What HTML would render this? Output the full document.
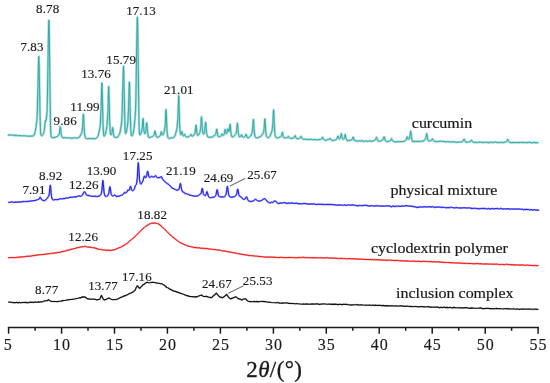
<!DOCTYPE html>
<html><head><meta charset="utf-8"><style>
html,body{margin:0;padding:0;background:#fff;}
svg{display:block;}
text{font-family:"Liberation Serif","Times New Roman",serif;fill:#1a1a1a;}
</style></head><body>
<svg width="550" height="383" viewBox="0 0 550 383">
<rect width="550" height="383" fill="#fff"/>
<g fill="none" stroke-linejoin="round" stroke-linecap="round">
<polyline stroke="#acdedb" stroke-width="2.5" points="8.4,135.0 9.7,135.1 11.0,135.1 12.3,134.9 13.6,135.4 16.2,135.2 17.5,135.5 21.4,135.7 22.7,135.8 24.0,135.7 25.3,135.9 26.6,135.9 27.9,136.2 31.0,136.1 32.5,136.1 33.2,135.9 33.9,135.2 34.5,134.0 35.2,131.5 35.9,127.7 36.8,120.9 37.1,117.1 37.4,108.8 38.6,60.0 38.8,56.5 39.1,64.6 40.1,117.2 40.5,130.9 40.8,134.2 41.1,135.2 41.4,135.6 41.9,135.7 42.4,135.3 43.1,134.4 43.6,133.3 44.0,131.8 44.4,129.6 45.2,121.0 45.4,120.5 45.7,120.9 45.9,120.8 46.3,119.0 46.8,114.8 47.1,110.4 47.4,99.5 48.4,37.0 48.7,23.6 48.9,20.2 49.1,24.5 49.3,35.3 50.5,125.5 50.8,133.8 51.1,136.3 51.5,137.4 52.0,137.6 53.9,137.6 55.0,137.4 57.3,136.4 57.8,136.1 58.4,135.4 58.9,134.6 59.4,133.0 60.1,127.4 60.3,126.6 60.5,127.4 61.3,134.7 61.8,136.6 62.1,137.3 62.4,137.5 63.0,137.8 64.3,137.6 66.9,137.9 69.5,137.9 70.8,138.1 72.1,138.2 74.7,137.8 76.0,138.1 77.3,137.8 78.6,137.8 79.4,137.0 80.7,135.0 81.4,133.6 81.9,131.8 82.6,126.9 83.2,115.9 83.4,114.1 83.6,116.0 84.4,131.8 84.9,136.1 85.4,137.9 85.7,138.2 86.1,138.4 87.7,138.7 89.0,138.5 90.3,138.5 91.6,138.8 92.9,138.6 95.3,138.7 96.1,138.3 97.2,137.3 97.7,136.7 98.1,135.8 98.9,133.0 99.9,127.7 100.3,124.1 101.1,108.5 101.7,86.4 101.9,83.0 102.1,86.7 103.0,122.5 103.4,131.8 103.8,135.6 104.1,136.2 104.4,136.1 104.8,135.5 105.3,134.2 106.4,129.5 107.1,124.8 107.9,111.7 108.5,90.0 108.7,86.6 108.9,90.3 109.7,121.3 110.1,129.7 110.5,133.9 110.7,134.6 111.0,134.9 111.3,134.6 111.7,133.7 112.0,132.5 112.5,128.4 112.7,127.6 112.9,128.4 113.6,134.5 113.9,135.9 114.3,136.9 114.7,137.3 115.4,137.4 117.1,137.4 117.6,137.2 117.8,137.0 118.7,135.4 119.4,134.5 119.9,133.0 120.8,128.4 121.7,121.6 122.1,113.4 123.3,69.5 123.5,66.1 123.7,69.9 124.8,120.7 125.1,129.7 125.3,132.5 125.5,133.5 125.7,133.7 126.0,133.2 126.3,132.2 127.4,126.5 127.8,123.1 128.6,107.3 129.2,85.3 129.4,82.0 129.6,85.7 130.3,115.8 130.8,129.4 131.0,132.8 131.3,135.2 131.6,135.8 131.8,135.8 132.2,135.6 132.7,134.8 133.2,133.2 134.0,128.5 134.9,119.6 135.6,109.6 135.9,98.0 136.8,39.2 137.2,20.7 137.4,17.2 137.6,21.5 137.9,38.9 139.0,124.0 139.3,132.3 139.5,134.0 139.7,134.7 139.9,134.9 140.1,134.9 140.4,134.5 141.2,133.0 141.9,130.4 142.3,127.4 142.8,119.9 143.0,118.5 143.2,119.8 143.8,129.0 144.1,131.4 144.5,133.2 144.7,133.6 145.0,133.6 145.3,133.0 145.7,131.5 146.0,129.6 146.5,123.8 146.7,122.8 146.9,123.9 147.7,133.3 148.2,136.1 148.5,137.0 148.8,137.5 149.5,137.5 151.8,136.8 152.7,136.4 153.3,135.9 153.8,135.2 154.2,134.3 154.8,131.4 155.0,130.9 155.2,131.5 155.9,135.5 156.4,136.7 156.9,137.2 157.4,137.3 158.0,137.2 159.6,136.3 160.0,135.9 160.5,135.1 161.3,131.7 161.5,132.0 162.2,134.6 162.6,135.0 163.0,134.8 163.6,133.7 164.3,131.7 164.9,127.8 165.3,123.2 165.8,111.6 166.0,109.6 166.2,111.8 166.9,128.6 167.4,134.5 167.8,136.9 168.1,137.7 168.4,138.1 169.6,138.6 170.9,137.9 172.2,137.7 173.2,137.8 173.5,137.8 173.8,137.5 174.7,136.2 175.6,133.9 176.7,129.6 177.2,126.6 177.9,118.0 178.5,98.7 178.7,95.6 178.9,98.8 179.6,123.5 180.0,130.2 180.4,133.9 180.7,134.7 180.9,134.8 181.1,134.6 181.9,131.5 182.1,131.9 182.7,134.7 183.2,135.7 183.5,135.9 183.8,135.7 184.6,134.2 185.6,136.4 186.1,136.9 186.7,137.0 187.8,137.0 189.6,136.2 190.2,135.6 190.8,134.5 191.0,134.3 191.2,134.6 191.7,135.9 192.2,136.2 192.8,136.1 194.0,134.8 194.6,133.7 195.1,132.1 196.0,125.1 196.2,126.0 196.8,132.2 197.2,134.3 197.7,135.5 198.0,135.5 198.5,135.0 199.3,133.7 199.8,132.6 200.5,129.3 200.8,126.6 201.3,118.4 201.5,116.8 201.7,118.2 202.4,129.5 202.7,131.8 203.1,133.7 203.4,134.2 203.8,133.8 204.2,132.9 204.6,131.3 204.9,129.3 205.4,123.3 205.6,122.2 205.8,123.4 206.3,130.3 206.7,133.7 207.3,136.2 207.6,136.7 208.1,137.0 209.9,137.5 211.2,136.9 212.5,137.0 213.8,135.9 215.0,135.3 215.5,134.6 215.9,133.5 216.5,129.9 216.7,129.2 216.9,129.8 217.6,134.6 218.1,136.1 218.6,136.7 219.7,136.7 220.6,136.3 221.2,135.6 221.9,133.9 222.1,134.0 222.8,135.3 223.3,135.5 223.6,135.3 224.0,134.7 224.3,133.8 225.1,129.4 225.3,129.7 226.0,133.2 226.3,133.6 226.6,133.6 226.9,133.1 227.1,132.4 227.8,128.8 228.0,129.0 228.6,131.4 228.9,131.5 229.2,131.0 229.5,129.3 229.9,125.1 230.1,124.2 230.3,125.3 230.9,132.4 231.4,135.4 231.7,136.4 232.0,136.9 232.5,137.1 233.2,136.9 235.5,134.5 236.0,133.5 236.6,130.8 237.2,124.2 237.4,123.2 237.6,124.3 238.3,132.6 238.8,135.4 239.3,136.7 239.8,137.0 240.5,136.6 240.8,136.3 241.5,134.7 241.7,134.9 242.2,136.3 242.6,137.0 243.1,137.3 243.7,137.3 244.5,136.8 245.3,136.0 245.9,134.4 246.1,134.3 247.1,137.3 247.6,137.9 248.2,137.9 249.4,137.2 250.1,136.5 251.3,134.6 251.8,133.4 252.3,131.1 252.6,129.1 253.2,120.7 253.4,119.4 253.6,120.9 254.2,131.0 254.9,136.1 255.2,137.0 255.8,137.6 256.7,137.9 258.0,137.8 259.3,136.8 260.6,136.8 261.3,136.0 262.2,134.4 263.2,133.2 263.7,131.3 264.1,128.8 264.7,120.2 264.9,118.9 265.1,120.4 265.7,130.6 266.3,135.4 266.8,136.9 267.6,137.5 268.4,137.7 269.4,137.1 270.0,136.2 271.6,132.1 272.1,130.3 272.8,124.6 273.4,111.8 273.6,109.8 273.8,112.0 274.4,127.2 275.1,135.3 275.4,136.7 275.7,137.2 277.5,138.2 278.8,137.4 280.5,136.8 281.0,136.3 281.5,135.5 282.1,132.8 282.3,132.3 282.5,132.8 283.3,136.5 283.8,137.5 284.1,137.8 284.4,137.9 286.8,137.8 287.6,137.3 288.2,136.4 288.4,136.3 289.3,137.8 290.1,138.3 291.1,138.4 293.1,138.1 293.7,137.9 294.3,137.3 295.0,135.8 295.2,135.6 296.2,138.1 296.7,138.6 297.3,138.8 298.3,138.7 299.9,138.1 300.4,137.7 301.1,136.4 301.3,136.6 301.9,138.0 302.4,138.7 302.9,139.1 303.5,139.4 304.8,139.1 307.4,139.5 308.7,139.6 310.0,139.5 311.3,139.2 312.6,139.7 313.9,139.7 315.2,139.4 316.5,139.9 319.1,139.5 320.4,139.4 321.0,139.2 321.8,138.6 322.4,137.4 322.6,137.2 323.6,139.2 325.6,140.5 326.9,139.9 328.2,139.5 329.1,139.4 329.4,139.2 330.0,138.3 331.3,140.1 331.9,140.4 332.5,140.5 334.7,140.2 336.2,139.6 337.0,138.6 337.9,136.0 338.1,136.3 338.8,138.5 339.3,138.9 339.7,138.8 340.2,138.1 340.5,137.3 341.1,134.2 341.3,133.6 341.5,134.1 342.1,137.6 342.4,138.5 342.8,139.2 343.1,139.4 343.5,139.3 344.2,138.3 344.5,137.5 345.0,134.9 345.2,134.4 345.4,134.9 345.9,137.8 346.3,139.2 346.9,140.4 347.7,140.9 349.0,140.4 350.1,140.3 351.6,140.0 352.4,139.0 353.0,137.2 353.2,137.0 354.2,139.9 354.7,140.6 355.2,140.8 356.8,141.1 358.1,140.8 360.7,141.1 362.0,140.5 363.3,141.7 364.6,140.9 365.9,141.0 367.2,141.3 368.5,141.1 369.8,140.8 371.1,141.3 372.4,141.2 374.7,140.3 375.4,139.8 375.8,139.2 376.5,137.3 376.7,137.5 377.3,139.6 377.9,140.7 378.5,141.2 378.9,141.3 379.4,141.3 380.8,140.9 382.6,139.9 383.3,139.0 383.9,137.0 384.1,136.7 384.3,137.0 385.1,140.0 385.7,141.0 386.3,141.5 386.8,141.6 389.3,141.2 389.8,140.9 390.7,140.2 391.3,138.9 391.5,138.6 391.7,138.9 392.3,140.4 392.9,141.1 393.9,141.6 395.8,142.0 397.1,141.6 399.7,141.7 403.5,141.4 405.4,140.6 406.2,139.9 407.1,136.8 407.3,137.0 408.0,138.9 408.5,139.3 408.9,139.2 409.4,138.4 409.9,136.8 410.5,131.8 410.7,131.0 410.9,131.8 411.4,136.7 411.8,139.2 412.3,141.0 412.6,141.5 412.9,141.7 414.0,141.4 415.3,141.4 417.9,141.5 419.2,141.2 420.5,141.5 421.8,141.0 423.1,141.3 424.9,139.7 425.5,138.8 426.0,137.3 426.5,134.2 426.7,133.6 426.9,134.2 427.4,137.8 427.8,139.6 428.3,140.7 428.6,141.0 429.0,141.1 429.8,141.0 431.4,140.3 431.8,139.9 432.3,138.9 432.5,138.7 432.7,139.0 433.3,140.4 433.8,140.9 434.3,141.2 436.1,141.5 437.4,141.6 438.7,141.3 440.0,141.4 441.3,141.1 442.6,141.6 443.9,141.5 446.5,142.0 447.8,141.3 449.1,141.9 450.4,141.7 451.7,142.1 453.0,141.8 456.9,142.3 462.1,141.8 462.7,141.5 463.2,141.0 464.1,139.0 464.3,139.2 465.2,141.4 465.7,142.1 466.1,142.3 468.6,142.1 469.4,141.8 470.6,141.2 471.4,140.0 471.6,140.1 472.2,141.3 472.8,141.9 473.8,142.4 475.1,142.2 476.4,142.4 477.7,142.5 479.0,142.1 481.6,142.3 482.9,142.6 484.2,142.5 485.5,142.1 486.8,142.4 488.1,142.5 489.4,142.8 490.7,142.0 493.3,142.6 494.6,142.1 495.9,142.1 497.2,142.5 498.5,142.6 499.8,142.3 501.1,142.5 502.4,142.4 503.7,142.6 505.0,142.1 506.3,141.8 506.9,141.1 507.5,139.6 507.7,139.3 507.9,139.6 508.5,141.3 509.1,142.1 509.6,142.3 511.5,142.7 514.1,142.3 515.4,142.6 516.7,142.6 518.0,142.5 520.6,142.5 521.9,142.2 523.2,142.6 524.5,142.6 525.8,142.4 527.1,142.7 528.4,142.3 531.0,142.5 532.3,143.0 533.6,142.3 534.9,142.7 537.8,142.7"/>
<polyline stroke="#9a9aff" stroke-width="1.85" points="8.8,202.3 11.2,202.1 12.4,201.7 13.6,202.5 16.0,202.0 17.2,202.2 19.6,201.8 20.8,202.1 22.0,201.7 24.4,201.5 25.6,201.6 26.8,201.4 28.0,201.5 29.2,201.1 30.4,201.2 31.6,200.8 32.8,200.9 34.0,200.6 36.4,200.1 37.6,199.6 38.7,199.4 39.2,198.8 39.8,197.5 40.2,197.1 40.4,197.4 41.1,198.9 41.8,199.8 42.8,200.3 44.8,200.7 45.6,200.0 47.2,198.1 48.5,196.4 48.9,195.6 49.3,193.6 50.0,186.5 50.3,185.2 50.6,186.7 51.2,193.8 51.6,196.9 51.9,198.1 52.3,199.0 52.7,199.6 53.2,200.0 54.4,199.6 56.8,199.6 58.0,199.7 59.2,199.1 60.4,198.8 61.6,198.7 62.8,198.9 64.0,198.4 65.2,198.5 66.4,197.7 67.6,198.1 68.8,197.8 70.0,197.1 72.4,197.3 73.6,196.9 76.0,197.0 77.2,196.4 78.3,196.2 79.6,196.0 80.8,196.2 81.7,195.7 82.4,195.1 83.9,192.1 84.4,191.6 84.7,191.7 85.0,192.1 86.3,194.7 86.7,195.1 87.2,195.4 88.0,195.5 89.2,195.4 90.4,196.2 91.6,196.1 92.8,196.4 95.2,196.2 96.4,196.5 98.2,196.3 99.4,195.9 100.2,195.4 100.8,194.7 101.3,193.6 101.8,191.1 102.6,182.0 102.9,180.5 103.2,182.2 104.1,192.6 104.6,194.9 105.3,196.1 105.7,196.4 106.3,196.4 107.1,196.3 107.7,195.6 108.3,194.6 108.8,193.1 109.6,187.6 109.9,186.7 110.2,187.7 111.0,193.4 111.3,194.5 111.8,195.4 112.4,195.8 113.1,196.0 113.6,195.7 114.3,195.1 114.7,195.0 116.0,196.1 116.8,196.6 118.0,196.2 119.2,196.1 120.4,195.6 121.7,195.2 122.8,194.7 123.5,194.0 124.6,192.3 124.9,192.3 125.7,192.9 126.3,192.7 126.8,192.2 127.6,190.3 127.9,189.9 128.1,190.0 128.7,190.4 129.1,190.4 129.5,189.7 130.2,186.9 130.5,186.3 130.8,186.8 131.5,189.6 132.0,190.5 132.4,190.7 132.9,190.6 133.4,190.3 134.0,189.6 134.4,188.7 135.2,185.9 135.4,185.6 136.0,185.1 136.3,184.5 136.8,182.5 137.3,177.9 138.0,165.3 138.3,162.7 138.6,164.9 139.5,179.5 140.0,182.7 140.3,183.5 140.7,184.1 141.0,184.0 141.4,183.6 142.9,180.9 144.3,176.1 144.4,176.0 144.6,176.2 145.2,177.4 145.5,177.7 145.8,177.6 146.2,177.0 146.6,175.8 147.3,172.0 147.6,171.2 147.9,171.7 148.8,176.2 149.1,177.0 149.4,177.3 149.9,177.5 150.4,177.3 151.6,176.1 151.9,176.2 152.5,176.8 153.0,177.0 154.0,177.1 154.5,176.7 155.4,175.5 155.8,175.8 156.7,177.3 157.6,177.8 160.0,177.5 160.4,177.3 161.0,176.6 161.3,176.6 161.6,177.0 162.6,179.2 163.4,180.3 167.2,183.6 168.4,184.2 169.6,185.6 170.8,186.5 172.0,188.1 173.2,188.4 174.4,189.2 175.6,189.6 176.4,190.0 177.3,190.2 177.9,190.2 178.4,189.8 178.9,189.2 179.4,187.9 180.1,184.0 180.4,183.4 180.7,184.2 181.3,188.0 181.7,189.8 182.2,191.1 182.8,192.0 184.0,192.4 185.2,193.5 186.4,193.6 187.6,194.4 188.8,194.5 190.0,195.3 191.2,195.4 194.2,196.1 195.8,196.2 197.4,196.0 198.2,195.6 199.1,194.7 199.9,194.5 200.4,194.2 200.9,193.5 201.2,192.9 202.0,189.0 202.3,188.4 202.6,189.2 203.3,193.4 203.6,194.4 203.9,194.9 204.9,195.5 205.3,195.6 205.6,195.5 206.1,194.4 206.7,192.0 207.0,191.6 207.3,192.2 208.3,196.1 208.9,197.1 209.5,197.5 210.7,197.7 211.6,197.6 212.8,197.2 213.9,197.2 214.5,196.9 215.1,196.4 215.6,195.7 216.0,194.8 216.9,190.2 217.2,189.6 217.5,190.5 218.3,195.0 218.8,196.2 219.3,196.6 220.0,196.6 221.2,197.1 222.4,196.7 223.6,197.1 224.2,196.8 224.8,196.4 225.4,195.5 225.9,194.4 226.4,192.5 227.1,187.3 227.4,186.4 227.7,187.5 228.3,192.6 228.7,194.7 229.2,196.0 230.2,197.0 230.8,197.3 233.2,196.9 234.2,196.9 234.4,196.9 234.9,196.4 236.1,195.1 236.5,194.4 236.8,193.3 237.4,189.8 237.7,189.0 238.0,189.9 238.8,194.5 239.1,195.4 239.6,196.1 241.3,197.2 242.8,198.9 243.8,199.3 244.6,199.2 245.3,198.7 245.6,198.3 246.2,197.0 246.6,196.8 247.8,199.7 248.6,200.9 249.1,201.2 250.0,201.3 251.2,201.6 252.4,201.1 253.0,201.1 253.6,200.9 254.6,199.7 255.3,199.2 255.9,199.4 256.8,200.2 257.7,200.8 259.6,201.2 261.8,200.3 263.8,198.9 264.7,198.7 265.1,198.9 265.5,199.2 267.1,201.2 269.2,202.7 270.4,202.8 271.6,202.2 272.8,202.6 274.3,201.0 275.0,200.8 275.7,201.2 277.6,203.3 278.8,203.5 281.2,202.8 282.4,203.2 283.6,202.7 284.8,202.6 286.0,203.3 289.6,203.0 290.8,203.3 292.0,202.8 293.2,203.4 296.8,203.2 298.0,203.7 300.4,203.7 301.6,203.9 302.8,203.6 305.2,203.5 307.6,204.1 308.8,204.0 310.0,204.2 311.2,203.9 312.4,204.0 314.8,204.0 316.0,204.6 318.4,204.2 320.8,204.4 322.0,204.2 323.2,204.6 324.4,204.3 325.6,204.5 326.8,204.4 328.0,204.5 330.4,204.4 335.2,204.9 336.4,205.2 338.8,204.9 340.0,205.1 341.2,204.9 342.4,205.3 343.6,205.2 344.8,204.9 346.0,205.3 347.2,205.4 348.4,204.7 349.6,205.1 350.8,205.2 352.0,204.9 354.4,205.2 355.6,205.5 356.8,205.5 358.0,206.0 359.2,205.4 360.4,205.7 361.6,205.5 362.8,205.6 365.2,205.2 368.8,206.0 370.0,205.8 371.2,205.8 372.4,205.6 373.6,206.1 374.8,206.1 376.0,205.7 377.2,205.9 378.4,205.7 379.6,206.2 382.0,206.0 384.4,206.2 386.8,205.9 389.2,205.9 391.6,206.8 392.8,206.0 394.0,206.4 395.2,206.5 396.4,206.1 397.6,206.3 398.8,206.0 400.0,206.5 401.2,206.0 403.6,206.2 406.0,205.6 408.4,206.1 409.6,206.0 410.8,206.2 412.0,206.2 414.4,206.9 415.6,206.9 416.8,207.5 420.4,206.8 421.6,207.2 422.8,206.8 424.0,206.9 425.2,206.7 426.4,207.0 427.6,206.9 428.8,206.7 431.2,207.0 432.4,206.6 433.6,207.2 436.0,207.2 437.2,207.0 438.4,207.2 439.6,207.0 440.8,207.3 442.0,207.2 443.2,207.4 444.4,207.4 446.8,207.9 448.0,207.4 449.2,207.9 450.4,207.3 451.6,207.3 452.8,207.7 455.2,207.9 456.4,207.5 457.6,207.8 458.8,207.8 460.0,208.1 461.2,207.8 462.4,208.0 463.6,207.7 464.8,207.8 466.0,207.8 467.2,208.1 468.4,207.8 469.6,207.9 472.0,208.5 473.2,208.3 475.6,208.3 476.8,208.6 478.0,208.5 479.2,208.8 481.6,208.4 482.8,208.5 485.2,208.4 486.4,208.9 487.6,208.8 488.8,208.4 490.0,209.1 492.4,208.5 493.6,208.8 497.2,208.4 498.4,208.8 499.6,208.9 500.8,208.3 502.0,209.0 503.2,209.0 504.4,208.8 505.6,208.9 508.0,208.8 509.2,208.9 510.4,209.3 511.6,208.8 512.8,209.1 514.0,209.1 515.2,209.0 516.4,209.1 517.6,208.9 521.2,209.3 522.4,209.1 523.6,209.9 524.8,209.3 526.0,209.5 528.4,209.5 529.6,209.9 530.8,209.6 532.0,210.0 533.2,210.0 534.4,209.6 535.6,210.1 536.8,209.8 538.0,210.5 538.6,210.2"/>
<polyline stroke="#ff9a9a" stroke-width="1.75" points="8.6,257.8 9.1,257.6 9.8,257.6 12.6,257.5 14.3,257.6 15.3,257.5 16.1,257.5 17.1,257.3 17.9,257.2 18.9,257.3 20.9,256.9 22.4,256.8 23.4,256.9 24.4,256.6 25.1,256.5 26.1,256.5 27.1,256.2 28.9,256.3 30.6,256.0 31.4,256.0 32.4,255.5 33.4,255.8 35.1,255.2 36.1,255.3 36.9,255.2 38.6,254.8 40.6,254.7 41.4,254.7 43.1,254.4 44.1,254.4 45.9,254.0 46.9,254.0 49.4,253.6 50.4,253.6 51.4,253.2 52.4,253.4 53.1,253.3 54.1,253.0 54.9,253.0 55.9,252.8 56.6,252.9 57.6,252.4 59.9,252.4 60.4,252.3 61.1,251.8 61.4,251.7 62.9,251.6 63.9,251.2 64.8,251.2 65.8,250.6 66.6,250.6 67.6,250.2 68.3,250.3 71.1,249.2 72.1,249.3 72.8,249.0 74.8,248.5 77.3,247.7 78.3,247.4 79.1,247.5 80.1,247.0 83.6,246.7 84.6,246.4 85.6,246.4 87.3,247.0 89.8,247.2 91.8,247.5 92.6,247.7 93.6,247.7 97.1,248.6 98.1,249.1 99.8,249.5 100.8,249.3 101.6,249.6 102.6,249.8 103.3,250.0 103.6,250.0 104.3,249.9 105.3,250.4 106.1,250.4 107.1,250.2 111.6,250.4 112.6,249.9 113.3,249.9 114.3,249.6 115.3,249.4 116.1,249.1 117.1,248.8 117.8,248.2 118.8,247.9 119.6,247.5 120.6,247.4 122.6,246.1 124.1,245.4 126.1,243.9 127.6,243.2 127.8,243.0 128.8,241.9 131.3,239.6 132.3,238.9 133.1,238.3 136.6,235.0 137.8,233.6 139.3,232.3 142.3,229.1 144.1,227.7 145.1,226.7 147.6,225.1 148.6,224.6 149.3,223.9 150.3,223.8 151.1,223.4 151.8,223.2 154.3,223.0 155.6,223.1 156.6,223.4 157.6,223.5 160.1,224.9 161.1,226.0 162.1,226.8 162.8,227.7 163.8,228.4 164.6,229.1 166.3,231.0 167.3,231.9 169.1,233.7 170.1,234.9 171.1,235.5 171.8,236.3 172.8,237.0 175.3,239.0 177.3,240.7 178.3,241.3 180.1,242.6 182.6,243.8 183.6,244.1 184.6,244.8 185.3,244.8 186.3,245.5 187.1,245.7 188.1,246.1 189.8,246.4 190.8,246.7 191.6,246.8 193.6,247.3 197.1,247.8 198.1,247.7 198.8,247.9 199.8,247.9 200.8,248.3 201.6,248.4 202.6,248.1 203.3,248.4 205.1,248.4 206.1,248.7 207.8,248.6 208.8,248.9 210.6,249.2 211.6,249.1 212.3,249.4 213.1,249.5 214.3,249.4 215.8,249.7 216.8,249.8 217.8,250.2 219.6,250.1 221.3,250.5 222.3,250.9 223.3,250.8 225.8,251.2 226.8,251.7 227.6,251.5 228.6,251.8 230.3,252.2 231.3,252.2 232.1,252.6 232.3,252.6 233.1,252.6 234.8,252.9 237.3,253.5 239.3,253.9 241.1,254.1 242.1,254.4 243.8,254.6 245.6,255.0 247.6,255.1 249.3,255.6 250.3,255.5 251.8,255.6 252.8,255.9 253.8,255.7 254.6,256.0 255.6,256.2 256.4,256.1 256.6,256.1 257.4,256.4 259.1,256.4 260.1,256.6 261.1,256.5 262.9,257.0 263.6,256.8 264.6,257.2 265.6,257.0 266.4,257.1 267.1,257.1 268.1,256.9 269.9,257.2 271.6,257.1 272.9,257.3 274.6,257.1 276.4,257.5 277.1,257.4 278.9,257.6 280.9,257.3 281.6,257.3 283.6,257.6 286.1,257.5 287.1,257.6 290.6,257.4 291.6,257.5 293.4,257.5 294.4,257.6 295.1,257.6 296.1,257.9 297.9,257.5 298.9,257.6 300.6,257.4 301.6,257.6 303.4,257.2 304.1,257.6 305.1,257.5 306.1,257.7 306.9,257.5 307.6,257.5 307.9,257.5 308.6,257.8 309.6,257.5 311.4,257.8 313.1,257.7 315.1,257.8 315.9,257.6 316.9,257.8 317.6,257.8 318.6,258.0 319.6,257.7 320.4,257.7 321.4,257.9 322.4,257.8 324.9,258.0 325.9,257.9 326.6,257.9 327.6,257.7 329.4,258.2 330.4,258.0 332.1,258.0 333.1,258.2 334.9,258.1 335.9,258.3 337.6,258.4 338.4,258.3 339.4,258.6 340.4,258.4 342.1,258.4 343.9,258.6 344.6,258.5 345.6,258.7 346.6,258.7 347.4,258.8 349.1,258.7 350.1,258.5 351.1,258.8 351.9,258.9 356.4,258.9 357.4,259.2 360.1,259.0 361.9,259.3 363.6,259.1 364.6,259.4 369.9,259.6 370.9,259.4 371.6,259.7 372.6,259.6 373.4,259.8 373.6,259.8 374.4,259.4 375.4,259.8 376.1,259.8 377.1,259.7 378.9,259.9 380.9,259.9 383.4,260.2 384.4,260.1 386.9,260.3 387.9,260.1 388.6,260.1 389.6,260.3 390.6,260.2 393.1,260.5 394.1,260.4 395.1,260.6 395.9,260.4 396.1,260.4 396.9,260.6 397.9,260.4 398.6,260.5 399.6,260.8 401.4,260.7 403.1,260.9 404.9,260.9 405.9,261.1 406.9,260.9 408.6,261.0 409.6,261.2 411.4,261.3 412.1,261.2 413.1,261.2 414.1,261.3 414.9,261.2 415.9,261.3 416.6,261.3 417.6,261.2 419.4,261.3 421.1,261.6 422.1,261.4 423.1,261.4 423.9,261.2 424.9,261.5 426.6,261.4 427.6,261.7 428.4,261.5 430.1,261.7 431.1,261.6 432.1,261.9 432.9,261.9 433.9,261.7 434.6,261.7 435.6,262.0 437.4,261.8 441.1,262.2 441.9,262.2 442.9,262.4 444.6,262.4 446.6,262.5 447.4,262.5 448.1,262.4 449.1,262.6 450.1,262.6 450.9,262.8 451.9,262.7 453.6,262.8 454.6,263.0 455.6,262.9 458.1,263.0 460.9,263.2 461.6,263.4 462.6,263.2 465.4,263.4 466.4,263.3 468.9,263.5 471.6,263.5 473.4,263.8 474.4,263.7 476.1,263.7 477.1,263.6 479.9,263.8 481.4,263.7 482.4,264.0 483.4,264.1 484.4,263.9 486.9,264.1 487.9,263.8 488.6,264.2 489.6,264.0 490.6,264.2 492.4,264.1 494.1,264.3 495.1,264.1 496.6,264.2 497.6,264.1 498.6,264.5 500.4,264.4 501.4,264.5 502.4,264.3 504.1,264.7 504.9,264.6 505.9,264.3 506.6,264.2 508.6,264.7 509.4,264.6 511.1,264.8 512.1,264.6 513.9,264.9 515.6,264.9 516.6,264.8 517.6,265.0 518.4,264.9 520.1,265.3 521.1,264.9 522.1,264.8 522.9,265.0 524.9,265.3 525.6,265.3 526.6,265.1 527.4,265.1 528.4,265.4 529.1,265.2 530.1,265.5 531.1,265.3 531.9,265.5 534.6,265.6 535.6,265.4 536.4,265.6 538.1,265.6"/>
<polyline stroke="#c8c8c8" stroke-width="1.8" points="8.8,302.1 9.6,302.0 10.8,302.3 12.1,302.4 13.3,302.7 14.3,302.5 15.6,302.6 16.8,302.3 18.1,303.0 19.3,302.3 20.6,302.8 22.8,302.5 25.1,302.4 26.3,302.6 27.6,302.5 28.8,302.7 30.1,302.1 31.1,302.4 32.3,302.2 33.5,302.5 34.8,301.9 36.0,302.2 37.0,302.2 38.3,301.9 39.5,302.1 40.8,301.8 42.0,301.8 43.0,301.6 44.5,300.9 47.0,300.8 48.5,299.7 49.8,300.9 50.5,301.0 51.8,301.5 56.3,301.5 57.5,301.8 58.8,301.3 61.0,301.1 62.5,300.6 66.0,300.2 67.3,299.7 68.3,300.0 69.5,299.5 72.0,299.4 74.3,299.0 78.0,298.2 79.3,297.8 80.3,297.9 82.8,296.9 84.0,297.1 84.5,296.8 87.5,298.8 88.8,298.8 90.0,299.3 91.3,299.1 92.3,299.2 93.5,299.1 94.8,299.2 97.0,299.9 99.5,299.3 99.8,299.1 100.8,296.5 101.3,295.6 101.5,295.4 102.8,298.3 104.3,300.1 105.5,299.5 107.0,299.1 109.0,297.9 110.3,298.8 111.3,299.3 112.8,299.7 116.3,299.4 117.8,299.0 121.0,297.3 122.3,296.9 123.8,296.1 126.0,295.4 127.3,294.7 128.3,294.3 129.6,293.4 130.8,293.3 132.1,292.4 133.6,291.6 135.1,290.2 136.3,287.3 137.3,285.8 137.6,285.9 138.6,287.5 139.6,288.3 140.3,287.5 141.6,286.4 142.8,284.8 144.1,284.4 145.3,283.2 146.3,282.6 147.1,282.3 148.8,282.8 149.8,282.7 152.6,282.2 153.6,282.5 154.8,282.5 157.1,283.1 158.6,283.2 160.8,283.8 162.1,283.9 163.3,284.8 164.3,285.2 166.8,287.5 168.1,287.8 169.3,288.9 171.6,289.9 173.3,290.9 175.3,291.4 180.1,293.1 181.1,293.3 182.3,294.0 183.6,294.2 186.1,295.4 189.6,296.4 194.3,296.9 195.6,296.6 196.8,296.9 198.1,296.3 199.1,295.7 199.6,295.7 201.6,295.0 203.3,296.4 204.8,296.5 206.6,296.4 208.8,297.3 210.1,297.4 211.3,297.7 211.6,297.7 212.3,297.0 213.6,295.6 214.8,294.8 216.3,293.2 216.6,293.3 218.3,295.7 219.6,296.9 220.3,297.2 220.8,297.0 222.1,297.8 222.6,297.7 224.6,296.3 226.6,294.4 228.3,296.8 229.1,297.7 230.6,298.9 235.8,296.8 236.1,296.9 238.1,298.6 240.1,299.1 241.3,299.8 242.3,299.8 243.6,299.0 244.8,299.0 245.3,298.7 246.1,299.2 246.8,300.3 247.3,300.7 248.3,301.2 250.1,301.6 250.8,301.5 252.1,301.7 253.1,301.7 254.6,301.4 255.6,301.7 256.8,301.4 258.1,301.9 259.3,301.5 261.6,301.5 262.8,301.4 264.1,301.6 265.6,301.5 267.6,302.2 268.8,302.1 271.3,302.5 276.1,302.8 277.3,302.5 278.3,302.7 279.8,303.1 280.8,303.2 282.1,302.9 283.3,303.2 284.3,302.9 285.6,303.0 286.8,302.8 288.1,303.3 289.3,303.3 290.6,303.5 292.8,303.5 295.3,303.8 296.3,303.6 297.6,303.7 302.3,304.2 303.6,303.9 304.8,304.2 306.1,303.9 307.3,304.1 308.6,304.1 309.6,304.3 312.1,303.9 313.3,304.1 317.8,303.9 318.1,303.9 319.3,304.5 320.3,304.1 321.6,304.2 322.8,303.8 327.6,304.3 328.8,304.0 331.1,304.4 332.3,304.1 333.6,304.4 334.8,304.1 338.3,304.6 339.6,304.2 342.1,304.6 343.3,304.2 344.3,304.4 346.8,304.4 348.1,304.7 349.3,304.7 350.6,305.1 351.6,304.9 352.8,304.9 354.1,304.7 356.3,304.8 357.6,304.5 358.8,305.2 360.1,304.8 361.1,304.8 364.8,305.3 366.1,305.1 367.3,305.2 369.6,305.0 370.8,305.3 371.8,305.3 373.1,305.1 374.3,305.5 375.6,305.1 376.8,305.5 378.1,305.3 380.3,305.4 381.6,305.7 382.8,305.4 385.3,305.9 386.6,305.6 388.8,305.9 390.1,305.7 391.3,305.9 392.3,305.7 393.6,306.0 396.1,305.8 397.3,306.2 398.3,306.0 400.8,305.9 405.6,306.4 406.8,306.0 409.3,306.5 410.6,306.4 412.8,306.7 414.1,306.5 416.3,306.5 417.6,306.8 418.8,306.8 420.1,306.5 421.3,306.7 422.3,306.5 423.8,306.9 427.3,306.8 428.3,306.6 429.6,307.1 431.8,307.0 433.3,307.2 434.6,307.1 438.1,307.1 439.3,307.8 440.6,307.4 441.6,307.4 442.8,307.7 444.1,307.0 445.3,307.6 447.6,307.4 448.8,307.7 450.1,307.3 451.3,307.7 452.3,307.9 453.6,307.4 456.1,307.8 458.3,307.7 459.8,307.9 460.8,307.9 462.1,307.7 463.3,307.9 466.8,307.6 468.1,308.2 469.3,308.1 470.3,308.4 471.6,307.9 474.1,308.2 475.3,308.2 476.6,308.3 478.8,308.2 480.1,307.9 482.6,308.6 483.6,308.5 484.8,308.6 486.1,308.3 487.3,308.4 488.3,308.3 489.6,308.6 492.1,308.6 493.1,308.8 494.3,308.5 495.6,308.7 496.8,308.4 498.1,308.8 499.3,308.6 501.6,308.7 502.8,309.0 504.1,308.7 506.3,308.6 507.6,308.9 508.8,308.7 512.3,309.0 513.5,308.8 516.0,309.3 517.3,308.8 518.3,309.2 519.5,309.4 520.8,309.0 522.0,309.2 523.3,308.9 524.5,309.2 525.5,309.1 526.8,309.2 528.0,309.0 534.0,309.3 535.3,309.1 537.5,309.4 538.0,309.3"/>
<polyline stroke="#2ba6a3" stroke-width="0.95" points="8.4,135.0 9.7,135.1 11.0,135.1 12.3,134.9 13.6,135.4 16.2,135.2 17.5,135.5 21.4,135.7 22.7,135.8 24.0,135.7 25.3,135.9 26.6,135.9 27.9,136.2 31.0,136.1 32.5,136.1 33.2,135.9 33.9,135.2 34.5,134.0 35.2,131.5 35.9,127.7 36.8,120.9 37.1,117.1 37.4,108.8 38.6,60.0 38.8,56.5 39.1,64.6 40.1,117.2 40.5,130.9 40.8,134.2 41.1,135.2 41.4,135.6 41.9,135.7 42.4,135.3 43.1,134.4 43.6,133.3 44.0,131.8 44.4,129.6 45.2,121.0 45.4,120.5 45.7,120.9 45.9,120.8 46.3,119.0 46.8,114.8 47.1,110.4 47.4,99.5 48.4,37.0 48.7,23.6 48.9,20.2 49.1,24.5 49.3,35.3 50.5,125.5 50.8,133.8 51.1,136.3 51.5,137.4 52.0,137.6 53.9,137.6 55.0,137.4 57.3,136.4 57.8,136.1 58.4,135.4 58.9,134.6 59.4,133.0 60.1,127.4 60.3,126.6 60.5,127.4 61.3,134.7 61.8,136.6 62.1,137.3 62.4,137.5 63.0,137.8 64.3,137.6 66.9,137.9 69.5,137.9 70.8,138.1 72.1,138.2 74.7,137.8 76.0,138.1 77.3,137.8 78.6,137.8 79.4,137.0 80.7,135.0 81.4,133.6 81.9,131.8 82.6,126.9 83.2,115.9 83.4,114.1 83.6,116.0 84.4,131.8 84.9,136.1 85.4,137.9 85.7,138.2 86.1,138.4 87.7,138.7 89.0,138.5 90.3,138.5 91.6,138.8 92.9,138.6 95.3,138.7 96.1,138.3 97.2,137.3 97.7,136.7 98.1,135.8 98.9,133.0 99.9,127.7 100.3,124.1 101.1,108.5 101.7,86.4 101.9,83.0 102.1,86.7 103.0,122.5 103.4,131.8 103.8,135.6 104.1,136.2 104.4,136.1 104.8,135.5 105.3,134.2 106.4,129.5 107.1,124.8 107.9,111.7 108.5,90.0 108.7,86.6 108.9,90.3 109.7,121.3 110.1,129.7 110.5,133.9 110.7,134.6 111.0,134.9 111.3,134.6 111.7,133.7 112.0,132.5 112.5,128.4 112.7,127.6 112.9,128.4 113.6,134.5 113.9,135.9 114.3,136.9 114.7,137.3 115.4,137.4 117.1,137.4 117.6,137.2 117.8,137.0 118.7,135.4 119.4,134.5 119.9,133.0 120.8,128.4 121.7,121.6 122.1,113.4 123.3,69.5 123.5,66.1 123.7,69.9 124.8,120.7 125.1,129.7 125.3,132.5 125.5,133.5 125.7,133.7 126.0,133.2 126.3,132.2 127.4,126.5 127.8,123.1 128.6,107.3 129.2,85.3 129.4,82.0 129.6,85.7 130.3,115.8 130.8,129.4 131.0,132.8 131.3,135.2 131.6,135.8 131.8,135.8 132.2,135.6 132.7,134.8 133.2,133.2 134.0,128.5 134.9,119.6 135.6,109.6 135.9,98.0 136.8,39.2 137.2,20.7 137.4,17.2 137.6,21.5 137.9,38.9 139.0,124.0 139.3,132.3 139.5,134.0 139.7,134.7 139.9,134.9 140.1,134.9 140.4,134.5 141.2,133.0 141.9,130.4 142.3,127.4 142.8,119.9 143.0,118.5 143.2,119.8 143.8,129.0 144.1,131.4 144.5,133.2 144.7,133.6 145.0,133.6 145.3,133.0 145.7,131.5 146.0,129.6 146.5,123.8 146.7,122.8 146.9,123.9 147.7,133.3 148.2,136.1 148.5,137.0 148.8,137.5 149.5,137.5 151.8,136.8 152.7,136.4 153.3,135.9 153.8,135.2 154.2,134.3 154.8,131.4 155.0,130.9 155.2,131.5 155.9,135.5 156.4,136.7 156.9,137.2 157.4,137.3 158.0,137.2 159.6,136.3 160.0,135.9 160.5,135.1 161.3,131.7 161.5,132.0 162.2,134.6 162.6,135.0 163.0,134.8 163.6,133.7 164.3,131.7 164.9,127.8 165.3,123.2 165.8,111.6 166.0,109.6 166.2,111.8 166.9,128.6 167.4,134.5 167.8,136.9 168.1,137.7 168.4,138.1 169.6,138.6 170.9,137.9 172.2,137.7 173.2,137.8 173.5,137.8 173.8,137.5 174.7,136.2 175.6,133.9 176.7,129.6 177.2,126.6 177.9,118.0 178.5,98.7 178.7,95.6 178.9,98.8 179.6,123.5 180.0,130.2 180.4,133.9 180.7,134.7 180.9,134.8 181.1,134.6 181.9,131.5 182.1,131.9 182.7,134.7 183.2,135.7 183.5,135.9 183.8,135.7 184.6,134.2 185.6,136.4 186.1,136.9 186.7,137.0 187.8,137.0 189.6,136.2 190.2,135.6 190.8,134.5 191.0,134.3 191.2,134.6 191.7,135.9 192.2,136.2 192.8,136.1 194.0,134.8 194.6,133.7 195.1,132.1 196.0,125.1 196.2,126.0 196.8,132.2 197.2,134.3 197.7,135.5 198.0,135.5 198.5,135.0 199.3,133.7 199.8,132.6 200.5,129.3 200.8,126.6 201.3,118.4 201.5,116.8 201.7,118.2 202.4,129.5 202.7,131.8 203.1,133.7 203.4,134.2 203.8,133.8 204.2,132.9 204.6,131.3 204.9,129.3 205.4,123.3 205.6,122.2 205.8,123.4 206.3,130.3 206.7,133.7 207.3,136.2 207.6,136.7 208.1,137.0 209.9,137.5 211.2,136.9 212.5,137.0 213.8,135.9 215.0,135.3 215.5,134.6 215.9,133.5 216.5,129.9 216.7,129.2 216.9,129.8 217.6,134.6 218.1,136.1 218.6,136.7 219.7,136.7 220.6,136.3 221.2,135.6 221.9,133.9 222.1,134.0 222.8,135.3 223.3,135.5 223.6,135.3 224.0,134.7 224.3,133.8 225.1,129.4 225.3,129.7 226.0,133.2 226.3,133.6 226.6,133.6 226.9,133.1 227.1,132.4 227.8,128.8 228.0,129.0 228.6,131.4 228.9,131.5 229.2,131.0 229.5,129.3 229.9,125.1 230.1,124.2 230.3,125.3 230.9,132.4 231.4,135.4 231.7,136.4 232.0,136.9 232.5,137.1 233.2,136.9 235.5,134.5 236.0,133.5 236.6,130.8 237.2,124.2 237.4,123.2 237.6,124.3 238.3,132.6 238.8,135.4 239.3,136.7 239.8,137.0 240.5,136.6 240.8,136.3 241.5,134.7 241.7,134.9 242.2,136.3 242.6,137.0 243.1,137.3 243.7,137.3 244.5,136.8 245.3,136.0 245.9,134.4 246.1,134.3 247.1,137.3 247.6,137.9 248.2,137.9 249.4,137.2 250.1,136.5 251.3,134.6 251.8,133.4 252.3,131.1 252.6,129.1 253.2,120.7 253.4,119.4 253.6,120.9 254.2,131.0 254.9,136.1 255.2,137.0 255.8,137.6 256.7,137.9 258.0,137.8 259.3,136.8 260.6,136.8 261.3,136.0 262.2,134.4 263.2,133.2 263.7,131.3 264.1,128.8 264.7,120.2 264.9,118.9 265.1,120.4 265.7,130.6 266.3,135.4 266.8,136.9 267.6,137.5 268.4,137.7 269.4,137.1 270.0,136.2 271.6,132.1 272.1,130.3 272.8,124.6 273.4,111.8 273.6,109.8 273.8,112.0 274.4,127.2 275.1,135.3 275.4,136.7 275.7,137.2 277.5,138.2 278.8,137.4 280.5,136.8 281.0,136.3 281.5,135.5 282.1,132.8 282.3,132.3 282.5,132.8 283.3,136.5 283.8,137.5 284.1,137.8 284.4,137.9 286.8,137.8 287.6,137.3 288.2,136.4 288.4,136.3 289.3,137.8 290.1,138.3 291.1,138.4 293.1,138.1 293.7,137.9 294.3,137.3 295.0,135.8 295.2,135.6 296.2,138.1 296.7,138.6 297.3,138.8 298.3,138.7 299.9,138.1 300.4,137.7 301.1,136.4 301.3,136.6 301.9,138.0 302.4,138.7 302.9,139.1 303.5,139.4 304.8,139.1 307.4,139.5 308.7,139.6 310.0,139.5 311.3,139.2 312.6,139.7 313.9,139.7 315.2,139.4 316.5,139.9 319.1,139.5 320.4,139.4 321.0,139.2 321.8,138.6 322.4,137.4 322.6,137.2 323.6,139.2 325.6,140.5 326.9,139.9 328.2,139.5 329.1,139.4 329.4,139.2 330.0,138.3 331.3,140.1 331.9,140.4 332.5,140.5 334.7,140.2 336.2,139.6 337.0,138.6 337.9,136.0 338.1,136.3 338.8,138.5 339.3,138.9 339.7,138.8 340.2,138.1 340.5,137.3 341.1,134.2 341.3,133.6 341.5,134.1 342.1,137.6 342.4,138.5 342.8,139.2 343.1,139.4 343.5,139.3 344.2,138.3 344.5,137.5 345.0,134.9 345.2,134.4 345.4,134.9 345.9,137.8 346.3,139.2 346.9,140.4 347.7,140.9 349.0,140.4 350.1,140.3 351.6,140.0 352.4,139.0 353.0,137.2 353.2,137.0 354.2,139.9 354.7,140.6 355.2,140.8 356.8,141.1 358.1,140.8 360.7,141.1 362.0,140.5 363.3,141.7 364.6,140.9 365.9,141.0 367.2,141.3 368.5,141.1 369.8,140.8 371.1,141.3 372.4,141.2 374.7,140.3 375.4,139.8 375.8,139.2 376.5,137.3 376.7,137.5 377.3,139.6 377.9,140.7 378.5,141.2 378.9,141.3 379.4,141.3 380.8,140.9 382.6,139.9 383.3,139.0 383.9,137.0 384.1,136.7 384.3,137.0 385.1,140.0 385.7,141.0 386.3,141.5 386.8,141.6 389.3,141.2 389.8,140.9 390.7,140.2 391.3,138.9 391.5,138.6 391.7,138.9 392.3,140.4 392.9,141.1 393.9,141.6 395.8,142.0 397.1,141.6 399.7,141.7 403.5,141.4 405.4,140.6 406.2,139.9 407.1,136.8 407.3,137.0 408.0,138.9 408.5,139.3 408.9,139.2 409.4,138.4 409.9,136.8 410.5,131.8 410.7,131.0 410.9,131.8 411.4,136.7 411.8,139.2 412.3,141.0 412.6,141.5 412.9,141.7 414.0,141.4 415.3,141.4 417.9,141.5 419.2,141.2 420.5,141.5 421.8,141.0 423.1,141.3 424.9,139.7 425.5,138.8 426.0,137.3 426.5,134.2 426.7,133.6 426.9,134.2 427.4,137.8 427.8,139.6 428.3,140.7 428.6,141.0 429.0,141.1 429.8,141.0 431.4,140.3 431.8,139.9 432.3,138.9 432.5,138.7 432.7,139.0 433.3,140.4 433.8,140.9 434.3,141.2 436.1,141.5 437.4,141.6 438.7,141.3 440.0,141.4 441.3,141.1 442.6,141.6 443.9,141.5 446.5,142.0 447.8,141.3 449.1,141.9 450.4,141.7 451.7,142.1 453.0,141.8 456.9,142.3 462.1,141.8 462.7,141.5 463.2,141.0 464.1,139.0 464.3,139.2 465.2,141.4 465.7,142.1 466.1,142.3 468.6,142.1 469.4,141.8 470.6,141.2 471.4,140.0 471.6,140.1 472.2,141.3 472.8,141.9 473.8,142.4 475.1,142.2 476.4,142.4 477.7,142.5 479.0,142.1 481.6,142.3 482.9,142.6 484.2,142.5 485.5,142.1 486.8,142.4 488.1,142.5 489.4,142.8 490.7,142.0 493.3,142.6 494.6,142.1 495.9,142.1 497.2,142.5 498.5,142.6 499.8,142.3 501.1,142.5 502.4,142.4 503.7,142.6 505.0,142.1 506.3,141.8 506.9,141.1 507.5,139.6 507.7,139.3 507.9,139.6 508.5,141.3 509.1,142.1 509.6,142.3 511.5,142.7 514.1,142.3 515.4,142.6 516.7,142.6 518.0,142.5 520.6,142.5 521.9,142.2 523.2,142.6 524.5,142.6 525.8,142.4 527.1,142.7 528.4,142.3 531.0,142.5 532.3,143.0 533.6,142.3 534.9,142.7 537.8,142.7"/>
<polyline stroke="#1c1cf0" stroke-width="1.0" points="8.8,202.3 11.2,202.1 12.4,201.7 13.6,202.5 16.0,202.0 17.2,202.2 19.6,201.8 20.8,202.1 22.0,201.7 24.4,201.5 25.6,201.6 26.8,201.4 28.0,201.5 29.2,201.1 30.4,201.2 31.6,200.8 32.8,200.9 34.0,200.6 36.4,200.1 37.6,199.6 38.7,199.4 39.2,198.8 39.8,197.5 40.2,197.1 40.4,197.4 41.1,198.9 41.8,199.8 42.8,200.3 44.8,200.7 45.6,200.0 47.2,198.1 48.5,196.4 48.9,195.6 49.3,193.6 50.0,186.5 50.3,185.2 50.6,186.7 51.2,193.8 51.6,196.9 51.9,198.1 52.3,199.0 52.7,199.6 53.2,200.0 54.4,199.6 56.8,199.6 58.0,199.7 59.2,199.1 60.4,198.8 61.6,198.7 62.8,198.9 64.0,198.4 65.2,198.5 66.4,197.7 67.6,198.1 68.8,197.8 70.0,197.1 72.4,197.3 73.6,196.9 76.0,197.0 77.2,196.4 78.3,196.2 79.6,196.0 80.8,196.2 81.7,195.7 82.4,195.1 83.9,192.1 84.4,191.6 84.7,191.7 85.0,192.1 86.3,194.7 86.7,195.1 87.2,195.4 88.0,195.5 89.2,195.4 90.4,196.2 91.6,196.1 92.8,196.4 95.2,196.2 96.4,196.5 98.2,196.3 99.4,195.9 100.2,195.4 100.8,194.7 101.3,193.6 101.8,191.1 102.6,182.0 102.9,180.5 103.2,182.2 104.1,192.6 104.6,194.9 105.3,196.1 105.7,196.4 106.3,196.4 107.1,196.3 107.7,195.6 108.3,194.6 108.8,193.1 109.6,187.6 109.9,186.7 110.2,187.7 111.0,193.4 111.3,194.5 111.8,195.4 112.4,195.8 113.1,196.0 113.6,195.7 114.3,195.1 114.7,195.0 116.0,196.1 116.8,196.6 118.0,196.2 119.2,196.1 120.4,195.6 121.7,195.2 122.8,194.7 123.5,194.0 124.6,192.3 124.9,192.3 125.7,192.9 126.3,192.7 126.8,192.2 127.6,190.3 127.9,189.9 128.1,190.0 128.7,190.4 129.1,190.4 129.5,189.7 130.2,186.9 130.5,186.3 130.8,186.8 131.5,189.6 132.0,190.5 132.4,190.7 132.9,190.6 133.4,190.3 134.0,189.6 134.4,188.7 135.2,185.9 135.4,185.6 136.0,185.1 136.3,184.5 136.8,182.5 137.3,177.9 138.0,165.3 138.3,162.7 138.6,164.9 139.5,179.5 140.0,182.7 140.3,183.5 140.7,184.1 141.0,184.0 141.4,183.6 142.9,180.9 144.3,176.1 144.4,176.0 144.6,176.2 145.2,177.4 145.5,177.7 145.8,177.6 146.2,177.0 146.6,175.8 147.3,172.0 147.6,171.2 147.9,171.7 148.8,176.2 149.1,177.0 149.4,177.3 149.9,177.5 150.4,177.3 151.6,176.1 151.9,176.2 152.5,176.8 153.0,177.0 154.0,177.1 154.5,176.7 155.4,175.5 155.8,175.8 156.7,177.3 157.6,177.8 160.0,177.5 160.4,177.3 161.0,176.6 161.3,176.6 161.6,177.0 162.6,179.2 163.4,180.3 167.2,183.6 168.4,184.2 169.6,185.6 170.8,186.5 172.0,188.1 173.2,188.4 174.4,189.2 175.6,189.6 176.4,190.0 177.3,190.2 177.9,190.2 178.4,189.8 178.9,189.2 179.4,187.9 180.1,184.0 180.4,183.4 180.7,184.2 181.3,188.0 181.7,189.8 182.2,191.1 182.8,192.0 184.0,192.4 185.2,193.5 186.4,193.6 187.6,194.4 188.8,194.5 190.0,195.3 191.2,195.4 194.2,196.1 195.8,196.2 197.4,196.0 198.2,195.6 199.1,194.7 199.9,194.5 200.4,194.2 200.9,193.5 201.2,192.9 202.0,189.0 202.3,188.4 202.6,189.2 203.3,193.4 203.6,194.4 203.9,194.9 204.9,195.5 205.3,195.6 205.6,195.5 206.1,194.4 206.7,192.0 207.0,191.6 207.3,192.2 208.3,196.1 208.9,197.1 209.5,197.5 210.7,197.7 211.6,197.6 212.8,197.2 213.9,197.2 214.5,196.9 215.1,196.4 215.6,195.7 216.0,194.8 216.9,190.2 217.2,189.6 217.5,190.5 218.3,195.0 218.8,196.2 219.3,196.6 220.0,196.6 221.2,197.1 222.4,196.7 223.6,197.1 224.2,196.8 224.8,196.4 225.4,195.5 225.9,194.4 226.4,192.5 227.1,187.3 227.4,186.4 227.7,187.5 228.3,192.6 228.7,194.7 229.2,196.0 230.2,197.0 230.8,197.3 233.2,196.9 234.2,196.9 234.4,196.9 234.9,196.4 236.1,195.1 236.5,194.4 236.8,193.3 237.4,189.8 237.7,189.0 238.0,189.9 238.8,194.5 239.1,195.4 239.6,196.1 241.3,197.2 242.8,198.9 243.8,199.3 244.6,199.2 245.3,198.7 245.6,198.3 246.2,197.0 246.6,196.8 247.8,199.7 248.6,200.9 249.1,201.2 250.0,201.3 251.2,201.6 252.4,201.1 253.0,201.1 253.6,200.9 254.6,199.7 255.3,199.2 255.9,199.4 256.8,200.2 257.7,200.8 259.6,201.2 261.8,200.3 263.8,198.9 264.7,198.7 265.1,198.9 265.5,199.2 267.1,201.2 269.2,202.7 270.4,202.8 271.6,202.2 272.8,202.6 274.3,201.0 275.0,200.8 275.7,201.2 277.6,203.3 278.8,203.5 281.2,202.8 282.4,203.2 283.6,202.7 284.8,202.6 286.0,203.3 289.6,203.0 290.8,203.3 292.0,202.8 293.2,203.4 296.8,203.2 298.0,203.7 300.4,203.7 301.6,203.9 302.8,203.6 305.2,203.5 307.6,204.1 308.8,204.0 310.0,204.2 311.2,203.9 312.4,204.0 314.8,204.0 316.0,204.6 318.4,204.2 320.8,204.4 322.0,204.2 323.2,204.6 324.4,204.3 325.6,204.5 326.8,204.4 328.0,204.5 330.4,204.4 335.2,204.9 336.4,205.2 338.8,204.9 340.0,205.1 341.2,204.9 342.4,205.3 343.6,205.2 344.8,204.9 346.0,205.3 347.2,205.4 348.4,204.7 349.6,205.1 350.8,205.2 352.0,204.9 354.4,205.2 355.6,205.5 356.8,205.5 358.0,206.0 359.2,205.4 360.4,205.7 361.6,205.5 362.8,205.6 365.2,205.2 368.8,206.0 370.0,205.8 371.2,205.8 372.4,205.6 373.6,206.1 374.8,206.1 376.0,205.7 377.2,205.9 378.4,205.7 379.6,206.2 382.0,206.0 384.4,206.2 386.8,205.9 389.2,205.9 391.6,206.8 392.8,206.0 394.0,206.4 395.2,206.5 396.4,206.1 397.6,206.3 398.8,206.0 400.0,206.5 401.2,206.0 403.6,206.2 406.0,205.6 408.4,206.1 409.6,206.0 410.8,206.2 412.0,206.2 414.4,206.9 415.6,206.9 416.8,207.5 420.4,206.8 421.6,207.2 422.8,206.8 424.0,206.9 425.2,206.7 426.4,207.0 427.6,206.9 428.8,206.7 431.2,207.0 432.4,206.6 433.6,207.2 436.0,207.2 437.2,207.0 438.4,207.2 439.6,207.0 440.8,207.3 442.0,207.2 443.2,207.4 444.4,207.4 446.8,207.9 448.0,207.4 449.2,207.9 450.4,207.3 451.6,207.3 452.8,207.7 455.2,207.9 456.4,207.5 457.6,207.8 458.8,207.8 460.0,208.1 461.2,207.8 462.4,208.0 463.6,207.7 464.8,207.8 466.0,207.8 467.2,208.1 468.4,207.8 469.6,207.9 472.0,208.5 473.2,208.3 475.6,208.3 476.8,208.6 478.0,208.5 479.2,208.8 481.6,208.4 482.8,208.5 485.2,208.4 486.4,208.9 487.6,208.8 488.8,208.4 490.0,209.1 492.4,208.5 493.6,208.8 497.2,208.4 498.4,208.8 499.6,208.9 500.8,208.3 502.0,209.0 503.2,209.0 504.4,208.8 505.6,208.9 508.0,208.8 509.2,208.9 510.4,209.3 511.6,208.8 512.8,209.1 514.0,209.1 515.2,209.0 516.4,209.1 517.6,208.9 521.2,209.3 522.4,209.1 523.6,209.9 524.8,209.3 526.0,209.5 528.4,209.5 529.6,209.9 530.8,209.6 532.0,210.0 533.2,210.0 534.4,209.6 535.6,210.1 536.8,209.8 538.0,210.5 538.6,210.2"/>
<polyline stroke="#f01010" stroke-width="1.0" points="8.6,257.8 9.1,257.6 9.8,257.6 12.6,257.5 14.3,257.6 15.3,257.5 16.1,257.5 17.1,257.3 17.9,257.2 18.9,257.3 20.9,256.9 22.4,256.8 23.4,256.9 24.4,256.6 25.1,256.5 26.1,256.5 27.1,256.2 28.9,256.3 30.6,256.0 31.4,256.0 32.4,255.5 33.4,255.8 35.1,255.2 36.1,255.3 36.9,255.2 38.6,254.8 40.6,254.7 41.4,254.7 43.1,254.4 44.1,254.4 45.9,254.0 46.9,254.0 49.4,253.6 50.4,253.6 51.4,253.2 52.4,253.4 53.1,253.3 54.1,253.0 54.9,253.0 55.9,252.8 56.6,252.9 57.6,252.4 59.9,252.4 60.4,252.3 61.1,251.8 61.4,251.7 62.9,251.6 63.9,251.2 64.8,251.2 65.8,250.6 66.6,250.6 67.6,250.2 68.3,250.3 71.1,249.2 72.1,249.3 72.8,249.0 74.8,248.5 77.3,247.7 78.3,247.4 79.1,247.5 80.1,247.0 83.6,246.7 84.6,246.4 85.6,246.4 87.3,247.0 89.8,247.2 91.8,247.5 92.6,247.7 93.6,247.7 97.1,248.6 98.1,249.1 99.8,249.5 100.8,249.3 101.6,249.6 102.6,249.8 103.3,250.0 103.6,250.0 104.3,249.9 105.3,250.4 106.1,250.4 107.1,250.2 111.6,250.4 112.6,249.9 113.3,249.9 114.3,249.6 115.3,249.4 116.1,249.1 117.1,248.8 117.8,248.2 118.8,247.9 119.6,247.5 120.6,247.4 122.6,246.1 124.1,245.4 126.1,243.9 127.6,243.2 127.8,243.0 128.8,241.9 131.3,239.6 132.3,238.9 133.1,238.3 136.6,235.0 137.8,233.6 139.3,232.3 142.3,229.1 144.1,227.7 145.1,226.7 147.6,225.1 148.6,224.6 149.3,223.9 150.3,223.8 151.1,223.4 151.8,223.2 154.3,223.0 155.6,223.1 156.6,223.4 157.6,223.5 160.1,224.9 161.1,226.0 162.1,226.8 162.8,227.7 163.8,228.4 164.6,229.1 166.3,231.0 167.3,231.9 169.1,233.7 170.1,234.9 171.1,235.5 171.8,236.3 172.8,237.0 175.3,239.0 177.3,240.7 178.3,241.3 180.1,242.6 182.6,243.8 183.6,244.1 184.6,244.8 185.3,244.8 186.3,245.5 187.1,245.7 188.1,246.1 189.8,246.4 190.8,246.7 191.6,246.8 193.6,247.3 197.1,247.8 198.1,247.7 198.8,247.9 199.8,247.9 200.8,248.3 201.6,248.4 202.6,248.1 203.3,248.4 205.1,248.4 206.1,248.7 207.8,248.6 208.8,248.9 210.6,249.2 211.6,249.1 212.3,249.4 213.1,249.5 214.3,249.4 215.8,249.7 216.8,249.8 217.8,250.2 219.6,250.1 221.3,250.5 222.3,250.9 223.3,250.8 225.8,251.2 226.8,251.7 227.6,251.5 228.6,251.8 230.3,252.2 231.3,252.2 232.1,252.6 232.3,252.6 233.1,252.6 234.8,252.9 237.3,253.5 239.3,253.9 241.1,254.1 242.1,254.4 243.8,254.6 245.6,255.0 247.6,255.1 249.3,255.6 250.3,255.5 251.8,255.6 252.8,255.9 253.8,255.7 254.6,256.0 255.6,256.2 256.4,256.1 256.6,256.1 257.4,256.4 259.1,256.4 260.1,256.6 261.1,256.5 262.9,257.0 263.6,256.8 264.6,257.2 265.6,257.0 266.4,257.1 267.1,257.1 268.1,256.9 269.9,257.2 271.6,257.1 272.9,257.3 274.6,257.1 276.4,257.5 277.1,257.4 278.9,257.6 280.9,257.3 281.6,257.3 283.6,257.6 286.1,257.5 287.1,257.6 290.6,257.4 291.6,257.5 293.4,257.5 294.4,257.6 295.1,257.6 296.1,257.9 297.9,257.5 298.9,257.6 300.6,257.4 301.6,257.6 303.4,257.2 304.1,257.6 305.1,257.5 306.1,257.7 306.9,257.5 307.6,257.5 307.9,257.5 308.6,257.8 309.6,257.5 311.4,257.8 313.1,257.7 315.1,257.8 315.9,257.6 316.9,257.8 317.6,257.8 318.6,258.0 319.6,257.7 320.4,257.7 321.4,257.9 322.4,257.8 324.9,258.0 325.9,257.9 326.6,257.9 327.6,257.7 329.4,258.2 330.4,258.0 332.1,258.0 333.1,258.2 334.9,258.1 335.9,258.3 337.6,258.4 338.4,258.3 339.4,258.6 340.4,258.4 342.1,258.4 343.9,258.6 344.6,258.5 345.6,258.7 346.6,258.7 347.4,258.8 349.1,258.7 350.1,258.5 351.1,258.8 351.9,258.9 356.4,258.9 357.4,259.2 360.1,259.0 361.9,259.3 363.6,259.1 364.6,259.4 369.9,259.6 370.9,259.4 371.6,259.7 372.6,259.6 373.4,259.8 373.6,259.8 374.4,259.4 375.4,259.8 376.1,259.8 377.1,259.7 378.9,259.9 380.9,259.9 383.4,260.2 384.4,260.1 386.9,260.3 387.9,260.1 388.6,260.1 389.6,260.3 390.6,260.2 393.1,260.5 394.1,260.4 395.1,260.6 395.9,260.4 396.1,260.4 396.9,260.6 397.9,260.4 398.6,260.5 399.6,260.8 401.4,260.7 403.1,260.9 404.9,260.9 405.9,261.1 406.9,260.9 408.6,261.0 409.6,261.2 411.4,261.3 412.1,261.2 413.1,261.2 414.1,261.3 414.9,261.2 415.9,261.3 416.6,261.3 417.6,261.2 419.4,261.3 421.1,261.6 422.1,261.4 423.1,261.4 423.9,261.2 424.9,261.5 426.6,261.4 427.6,261.7 428.4,261.5 430.1,261.7 431.1,261.6 432.1,261.9 432.9,261.9 433.9,261.7 434.6,261.7 435.6,262.0 437.4,261.8 441.1,262.2 441.9,262.2 442.9,262.4 444.6,262.4 446.6,262.5 447.4,262.5 448.1,262.4 449.1,262.6 450.1,262.6 450.9,262.8 451.9,262.7 453.6,262.8 454.6,263.0 455.6,262.9 458.1,263.0 460.9,263.2 461.6,263.4 462.6,263.2 465.4,263.4 466.4,263.3 468.9,263.5 471.6,263.5 473.4,263.8 474.4,263.7 476.1,263.7 477.1,263.6 479.9,263.8 481.4,263.7 482.4,264.0 483.4,264.1 484.4,263.9 486.9,264.1 487.9,263.8 488.6,264.2 489.6,264.0 490.6,264.2 492.4,264.1 494.1,264.3 495.1,264.1 496.6,264.2 497.6,264.1 498.6,264.5 500.4,264.4 501.4,264.5 502.4,264.3 504.1,264.7 504.9,264.6 505.9,264.3 506.6,264.2 508.6,264.7 509.4,264.6 511.1,264.8 512.1,264.6 513.9,264.9 515.6,264.9 516.6,264.8 517.6,265.0 518.4,264.9 520.1,265.3 521.1,264.9 522.1,264.8 522.9,265.0 524.9,265.3 525.6,265.3 526.6,265.1 527.4,265.1 528.4,265.4 529.1,265.2 530.1,265.5 531.1,265.3 531.9,265.5 534.6,265.6 535.6,265.4 536.4,265.6 538.1,265.6"/>
<polyline stroke="#111111" stroke-width="1.15" points="8.8,302.1 9.6,302.0 10.8,302.3 12.1,302.4 13.3,302.7 14.3,302.5 15.6,302.6 16.8,302.3 18.1,303.0 19.3,302.3 20.6,302.8 22.8,302.5 25.1,302.4 26.3,302.6 27.6,302.5 28.8,302.7 30.1,302.1 31.1,302.4 32.3,302.2 33.5,302.5 34.8,301.9 36.0,302.2 37.0,302.2 38.3,301.9 39.5,302.1 40.8,301.8 42.0,301.8 43.0,301.6 44.5,300.9 47.0,300.8 48.5,299.7 49.8,300.9 50.5,301.0 51.8,301.5 56.3,301.5 57.5,301.8 58.8,301.3 61.0,301.1 62.5,300.6 66.0,300.2 67.3,299.7 68.3,300.0 69.5,299.5 72.0,299.4 74.3,299.0 78.0,298.2 79.3,297.8 80.3,297.9 82.8,296.9 84.0,297.1 84.5,296.8 87.5,298.8 88.8,298.8 90.0,299.3 91.3,299.1 92.3,299.2 93.5,299.1 94.8,299.2 97.0,299.9 99.5,299.3 99.8,299.1 100.8,296.5 101.3,295.6 101.5,295.4 102.8,298.3 104.3,300.1 105.5,299.5 107.0,299.1 109.0,297.9 110.3,298.8 111.3,299.3 112.8,299.7 116.3,299.4 117.8,299.0 121.0,297.3 122.3,296.9 123.8,296.1 126.0,295.4 127.3,294.7 128.3,294.3 129.6,293.4 130.8,293.3 132.1,292.4 133.6,291.6 135.1,290.2 136.3,287.3 137.3,285.8 137.6,285.9 138.6,287.5 139.6,288.3 140.3,287.5 141.6,286.4 142.8,284.8 144.1,284.4 145.3,283.2 146.3,282.6 147.1,282.3 148.8,282.8 149.8,282.7 152.6,282.2 153.6,282.5 154.8,282.5 157.1,283.1 158.6,283.2 160.8,283.8 162.1,283.9 163.3,284.8 164.3,285.2 166.8,287.5 168.1,287.8 169.3,288.9 171.6,289.9 173.3,290.9 175.3,291.4 180.1,293.1 181.1,293.3 182.3,294.0 183.6,294.2 186.1,295.4 189.6,296.4 194.3,296.9 195.6,296.6 196.8,296.9 198.1,296.3 199.1,295.7 199.6,295.7 201.6,295.0 203.3,296.4 204.8,296.5 206.6,296.4 208.8,297.3 210.1,297.4 211.3,297.7 211.6,297.7 212.3,297.0 213.6,295.6 214.8,294.8 216.3,293.2 216.6,293.3 218.3,295.7 219.6,296.9 220.3,297.2 220.8,297.0 222.1,297.8 222.6,297.7 224.6,296.3 226.6,294.4 228.3,296.8 229.1,297.7 230.6,298.9 235.8,296.8 236.1,296.9 238.1,298.6 240.1,299.1 241.3,299.8 242.3,299.8 243.6,299.0 244.8,299.0 245.3,298.7 246.1,299.2 246.8,300.3 247.3,300.7 248.3,301.2 250.1,301.6 250.8,301.5 252.1,301.7 253.1,301.7 254.6,301.4 255.6,301.7 256.8,301.4 258.1,301.9 259.3,301.5 261.6,301.5 262.8,301.4 264.1,301.6 265.6,301.5 267.6,302.2 268.8,302.1 271.3,302.5 276.1,302.8 277.3,302.5 278.3,302.7 279.8,303.1 280.8,303.2 282.1,302.9 283.3,303.2 284.3,302.9 285.6,303.0 286.8,302.8 288.1,303.3 289.3,303.3 290.6,303.5 292.8,303.5 295.3,303.8 296.3,303.6 297.6,303.7 302.3,304.2 303.6,303.9 304.8,304.2 306.1,303.9 307.3,304.1 308.6,304.1 309.6,304.3 312.1,303.9 313.3,304.1 317.8,303.9 318.1,303.9 319.3,304.5 320.3,304.1 321.6,304.2 322.8,303.8 327.6,304.3 328.8,304.0 331.1,304.4 332.3,304.1 333.6,304.4 334.8,304.1 338.3,304.6 339.6,304.2 342.1,304.6 343.3,304.2 344.3,304.4 346.8,304.4 348.1,304.7 349.3,304.7 350.6,305.1 351.6,304.9 352.8,304.9 354.1,304.7 356.3,304.8 357.6,304.5 358.8,305.2 360.1,304.8 361.1,304.8 364.8,305.3 366.1,305.1 367.3,305.2 369.6,305.0 370.8,305.3 371.8,305.3 373.1,305.1 374.3,305.5 375.6,305.1 376.8,305.5 378.1,305.3 380.3,305.4 381.6,305.7 382.8,305.4 385.3,305.9 386.6,305.6 388.8,305.9 390.1,305.7 391.3,305.9 392.3,305.7 393.6,306.0 396.1,305.8 397.3,306.2 398.3,306.0 400.8,305.9 405.6,306.4 406.8,306.0 409.3,306.5 410.6,306.4 412.8,306.7 414.1,306.5 416.3,306.5 417.6,306.8 418.8,306.8 420.1,306.5 421.3,306.7 422.3,306.5 423.8,306.9 427.3,306.8 428.3,306.6 429.6,307.1 431.8,307.0 433.3,307.2 434.6,307.1 438.1,307.1 439.3,307.8 440.6,307.4 441.6,307.4 442.8,307.7 444.1,307.0 445.3,307.6 447.6,307.4 448.8,307.7 450.1,307.3 451.3,307.7 452.3,307.9 453.6,307.4 456.1,307.8 458.3,307.7 459.8,307.9 460.8,307.9 462.1,307.7 463.3,307.9 466.8,307.6 468.1,308.2 469.3,308.1 470.3,308.4 471.6,307.9 474.1,308.2 475.3,308.2 476.6,308.3 478.8,308.2 480.1,307.9 482.6,308.6 483.6,308.5 484.8,308.6 486.1,308.3 487.3,308.4 488.3,308.3 489.6,308.6 492.1,308.6 493.1,308.8 494.3,308.5 495.6,308.7 496.8,308.4 498.1,308.8 499.3,308.6 501.6,308.7 502.8,309.0 504.1,308.7 506.3,308.6 507.6,308.9 508.8,308.7 512.3,309.0 513.5,308.8 516.0,309.3 517.3,308.8 518.3,309.2 519.5,309.4 520.8,309.0 522.0,309.2 523.3,308.9 524.5,309.2 525.5,309.1 526.8,309.2 528.0,309.0 534.0,309.3 535.3,309.1 537.5,309.4 538.0,309.3"/>
</g>
<g stroke="#3a3a3a" stroke-width="0.85">
<line x1="245.4" y1="178.4" x2="229.8" y2="186.1"/>
<line x1="243.5" y1="285.8" x2="228.2" y2="293.3"/>
</g>
<g stroke="#1a1a1a" stroke-width="1.5" fill="none">
<line x1="8.6" y1="327.4" x2="538.1" y2="327.4" stroke-linecap="square"/>
<line x1="8.6" y1="327.4" x2="8.6" y2="333.7"/><line x1="61.6" y1="327.4" x2="61.6" y2="333.7"/><line x1="114.5" y1="327.4" x2="114.5" y2="333.7"/><line x1="167.4" y1="327.4" x2="167.4" y2="333.7"/><line x1="220.4" y1="327.4" x2="220.4" y2="333.7"/><line x1="273.4" y1="327.4" x2="273.4" y2="333.7"/><line x1="326.3" y1="327.4" x2="326.3" y2="333.7"/><line x1="379.2" y1="327.4" x2="379.2" y2="333.7"/><line x1="432.2" y1="327.4" x2="432.2" y2="333.7"/><line x1="485.2" y1="327.4" x2="485.2" y2="333.7"/><line x1="538.1" y1="327.4" x2="538.1" y2="333.7"/><line x1="35.1" y1="327.4" x2="35.1" y2="330.8"/><line x1="88.0" y1="327.4" x2="88.0" y2="330.8"/><line x1="141.0" y1="327.4" x2="141.0" y2="330.8"/><line x1="193.9" y1="327.4" x2="193.9" y2="330.8"/><line x1="246.9" y1="327.4" x2="246.9" y2="330.8"/><line x1="299.8" y1="327.4" x2="299.8" y2="330.8"/><line x1="352.8" y1="327.4" x2="352.8" y2="330.8"/><line x1="405.7" y1="327.4" x2="405.7" y2="330.8"/><line x1="458.7" y1="327.4" x2="458.7" y2="330.8"/><line x1="511.6" y1="327.4" x2="511.6" y2="330.8"/>
</g>
<g font-size="13" text-anchor="middle" letter-spacing="0.1" stroke="#1a1a1a" stroke-width="0.15">
<text x="32.0" y="50.6">7.83</text>
<text x="47.7" y="13.0">8.78</text>
<text x="65.2" y="124.8">9.86</text>
<text x="85.0" y="111">11.99</text>
<text x="96.0" y="78.2">13.76</text>
<text x="121.2" y="63.6">15.79</text>
<text x="141.0" y="15">17.13</text>
<text x="178.8" y="94.4">21.01</text>
<text x="34.0" y="194.3">7.91</text>
<text x="50.7" y="179.7">8.92</text>
<text x="83.8" y="188.8">12.26</text>
<text x="101.5" y="175.1">13.90</text>
<text x="137.7" y="159.6">17.25</text>
<text x="180.9" y="175.1">21.19</text>
<text x="218.6" y="182.1">24.69</text>
<text x="262.1" y="178.8">25.67</text>
<text x="83.2" y="241.4">12.26</text>
<text x="152.2" y="219">18.82</text>
<text x="46.7" y="293.6">8.77</text>
<text x="103.0" y="289.5">13.77</text>
<text x="136.9" y="281">17.16</text>
<text x="216.9" y="287.6">24.67</text>
<text x="257.7" y="285">25.53</text>
</g>
<g font-size="14.8" text-anchor="start" stroke="#1a1a1a" stroke-width="0.2">
<text transform="translate(411.8,127.7) scale(1.08,1)">curcumin</text>
<text transform="translate(390.4,195.2) scale(1.08,1)">physical mixture</text>
<text transform="translate(370.9,253.2) scale(1.08,1)">cyclodextrin polymer</text>
<text transform="translate(396.0,298.4) scale(1.08,1)">inclusion complex</text>
</g>
<g font-size="16" text-anchor="middle" letter-spacing="1" stroke="#1a1a1a" stroke-width="0.15">
<text x="8.3" y="349.7">5</text><text x="62.1" y="349.7">10</text><text x="115.0" y="349.7">15</text><text x="167.9" y="349.7">20</text><text x="220.9" y="349.7">25</text><text x="273.9" y="349.7">30</text><text x="326.8" y="349.7">35</text><text x="379.8" y="349.7">40</text><text x="432.7" y="349.7">45</text><text x="485.7" y="349.7">50</text><text x="538.6" y="349.7">55</text>
</g>
<text x="274.3" y="377" font-size="23" text-anchor="middle" letter-spacing="0.4" stroke="#1a1a1a" stroke-width="0.3">2<tspan font-style="italic">θ</tspan>/(°)</text>
</svg>
</body></html>
